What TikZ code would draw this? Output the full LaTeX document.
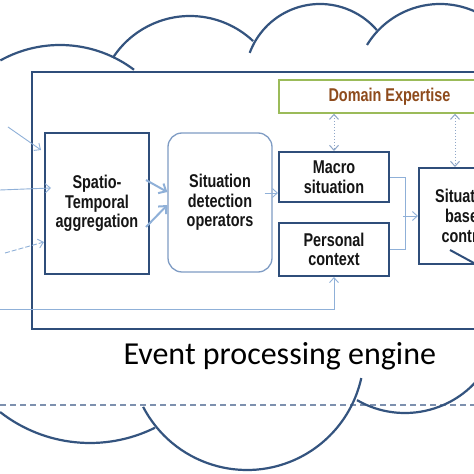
\documentclass[tikz,border=0pt]{standalone}
\usepackage{fontspec}
\usetikzlibrary{arrows.meta}
\newfontfamily\boxfont{Liberation Sans}[FakeStretch=0.78]
\newfontfamily\calfont{Carlito}
\definecolor{dkblue}{HTML}{2F4E7A}
\definecolor{cloudblue}{HTML}{34547F}
\definecolor{ltblue}{HTML}{8FB0D8}
\definecolor{detblue}{HTML}{7F9CC4}
\definecolor{dashblue}{HTML}{7D90AE}
\definecolor{dotblue}{HTML}{8FA7C8}
\definecolor{domgreen}{HTML}{9BBB59}
\definecolor{brown}{HTML}{8E4B1C}
\definecolor{txt}{HTML}{151515}
\tikzset{
  box/.style={draw=dkblue, line width=2pt, inner sep=0pt, text=txt, align=center,
    font=\boxfont\bfseries\fontsize{18.5}{19.7}\selectfont},
  detbox/.style={box, draw=detblue, line width=1.3pt, rounded corners=14pt},
  dombox/.style={box, draw=domgreen, line width=1.4pt, text=brown},
  engbox/.style={draw=dkblue, line width=2.2pt, inner sep=0pt},
  cloudline/.style={draw=cloudblue, line width=2.2pt},
  thinarrow/.style={draw=ltblue, line width=0.9pt, -{Straight Barb[length=5pt,width=9pt]}},
  thickarrow/.style={draw=ltblue, line width=2pt, -{Straight Barb[length=6pt,width=11pt]}},
  dotarrow/.style={draw=dotblue, line width=1pt, dotted, {Straight Barb[length=5pt,width=9pt]}-{Straight Barb[length=5pt,width=9pt]}},
}
\begin{document}
\begin{tikzpicture}[x=1pt,y=1pt]
\useasboundingbox (0,0) rectangle (474,474);
\clip (0,0) rectangle (474,474);
\fill[white] (0,0) rectangle (474,474);
% cloud top bumps
\draw[cloudline] (60,306) ++(119:123) arc[start angle=119, end angle=53, radius=123];
\draw[cloudline] (190,366) ++(147:92) arc[start angle=147, end angle=46.7, radius=92];
\draw[cloudline] (320,395) ++(159.6:75) arc[start angle=159.6, end angle=40.7, radius=75];
\draw[cloudline] (440,384.5) ++(148.6:85.5) arc[start angle=148.6, end angle=20, radius=85.5];
% cloud bottom bumps
\draw[draw=dashblue, line width=1.2pt, dash pattern=on 6pt off 4pt] (0,69) -- (474,69);
\draw[cloudline] (90,177) ++(232:146) arc[start angle=232, end angle=296.4, radius=146];
\draw[cloudline] (247,121) ++(207.4:117) arc[start angle=207.4, end angle=347.6, radius=117];
\draw[cloudline] (405,157) ++(240:96) arc[start angle=240, end angle=330, radius=96];
% engine box
\node[engbox, minimum width=448pt, minimum height=257pt] (engine) at (256,273.5) {};
\node[font=\calfont\fontsize{32}{38}\selectfont, text=black, anchor=base west] (label) at (120,109) {Event processing engine};
% boxes
\node[box, minimum width=104pt, minimum height=141pt] (spatio) at (97,270.5) {Spatio-\\Temporal\\aggregation};
\node[detbox, minimum width=104pt, minimum height=139pt] (det) at (220,271.5) {Situation\\detection\\operators};
\node[box, minimum width=110pt, minimum height=50pt] (macro) at (334,297) {Macro\\situation};
\node[box, minimum width=110pt, minimum height=53pt] (personal) at (334,224.5) {Personal\\context};
\node[dombox, minimum width=221pt, minimum height=33pt] (domain) at (389.5,377.5) {Domain Expertise};
\node[box, minimum width=94pt, minimum height=96pt] (control) at (466,258) {Situation\\based\\control};
% inputs
\coordinate (in1) at (8,347);
\coordinate (in2) at (0,284);
\coordinate (in3) at (5,221);
\coordinate (in4) at (0,165);
\draw[thinarrow] (in1) -- ([xshift=-3pt,yshift=53.5pt]spatio.west);
\draw[thinarrow] (in2) -- ([xshift=7pt,yshift=15.5pt]spatio.west);
\draw[thinarrow, dash pattern=on 5pt off 2pt] (in3) -- ([yshift=-38.5pt]spatio.west);
\draw[thinarrow] (in4) -| (personal.south);
% internal arrows
\draw[thickarrow] ([xshift=-4pt,yshift=23.5pt]spatio.east) -- ([yshift=10.5pt]det.west);
\draw[thickarrow] ([xshift=-4pt,yshift=-23.5pt]spatio.east) -- ([yshift=-2.5pt]det.west);
\draw[thinarrow] ([xshift=-8pt,yshift=9.5pt]det.east) -- ([yshift=-16pt]macro.west);
\draw[draw=ltblue, line width=0.9pt] (macro.east) -- ++(15,0) |- (personal.east);
\draw[thinarrow] ([xshift=-15pt]control.west) -- (control.west);
\draw[dotarrow] (macro.north |- domain.south) -- (macro.north);
\draw[dotarrow] ([xshift=-11pt]control.north |- domain.south) -- ([xshift=-11pt]control.north);
\coordinate (outend) at (494,200);
\draw[draw=dkblue, line width=2pt] ([xshift=-16pt,yshift=-34pt]control.center) -- (outend);
\end{tikzpicture}
\end{document}
